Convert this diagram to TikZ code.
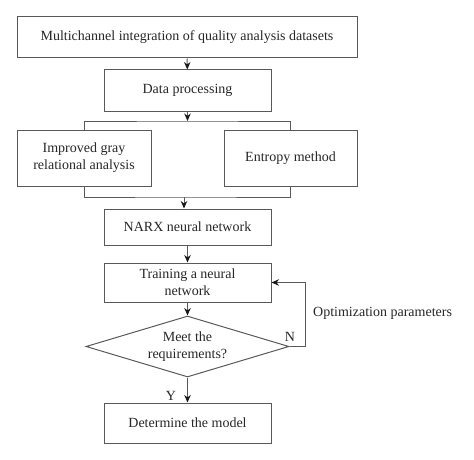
\documentclass[tikz,border=0pt]{standalone}
\usepackage{fontspec}
\setmainfont{Liberation Serif}
\usetikzlibrary{arrows.meta,shapes.geometric}

\tikzset{
    stepbox/.style={draw=black!65, line width=1pt, text=black!85, align=center, inner sep=0pt},
    link/.style={draw=black!65, line width=1pt},
    arr/.style={link, -{Stealth[length=7.5pt,width=6.5pt,black!90]}},
    lbl/.style={text=black!85, inner sep=1pt}
}

\begin{document}
\begin{tikzpicture}[x=1pt, y=-1pt, font=\fontsize{14}{17}\selectfont]
    \useasboundingbox (0,0) rectangle (474,460);

    \node[stepbox, minimum width=340pt, minimum height=41pt] (integ) at (187, 37.5) {Multichannel integration of quality analysis datasets};
    \node[stepbox, minimum width=167pt, minimum height=41pt] (proc) at (187.5, 90.5) {Data processing};

    \node[stepbox, minimum width=134pt, minimum height=56pt] (gray) at (84, 158) {Improved gray\\relational analysis};
    \node[stepbox, minimum width=133pt, minimum height=56pt] (entropy) at (290.5, 158) {Entropy method};

    \node[stepbox, minimum width=167pt, minimum height=36pt] (narx) at (187.5, 227) {NARX neural network};
    \node[stepbox, minimum width=167pt, minimum height=39pt] (train) at (187.5, 282.5) {Training a neural\\network};

    \node[stepbox, diamond, aspect=3.3, minimum width=203pt, minimum height=61pt] (meet) at (187.5, 346.5) {Meet the\\requirements?};
    \node[stepbox, minimum width=167pt, minimum height=40pt] (model) at (187.5, 423) {Determine the model};

    % split and merge points
    \coordinate (split) at (187.5, 121);
    \coordinate (merge) at (184, 197);
    \coordinate (loop) at (305, 346.5);

    \draw[arr] (integ) -- (proc);
    \draw[arr] (proc) -- (split);
    \draw[link] (gray.north) |- (split) -| (entropy.north);

    \draw[link] (gray.south) |- (merge) -| (entropy.south);
    \draw[arr] (merge) -- (merge |- narx.north);

    \draw[arr] (narx) -- (train);
    \draw[arr] (train) -- (meet);
    \draw[arr] (meet) -- (model);

    \draw[arr] (meet.east) -- (loop) |- (train.east);

    \node[lbl] (no) at (290, 337) {N};
    \node[lbl] (yes) at (171, 396) {Y};
    \node[lbl, anchor=west] (opt) at (312, 313) {Optimization parameters};

\end{tikzpicture}
\end{document}
